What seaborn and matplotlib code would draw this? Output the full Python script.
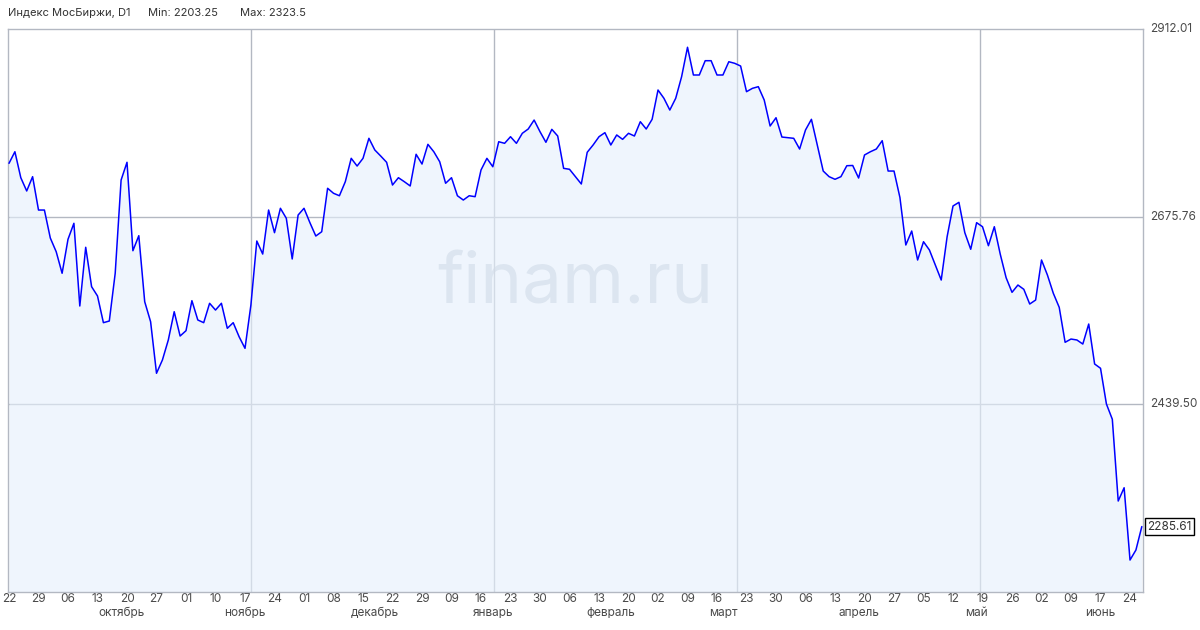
import numpy as np
import pandas as pd
import matplotlib
matplotlib.use('Agg')
import matplotlib.pyplot as plt
import seaborn as sns

# daily closes, one value per trading day
closes = [
    2742.9, 2757.5, 2724.8, 2708.1, 2726.1, 2684.1, 2684.1, 2648.9, 2631.6, 2604.5,
    2647.3, 2667.4, 2563.3, 2637.2, 2587.6, 2575.9, 2542.3, 2544.4, 2604.5, 2721.9,
    2744.2, 2632.9, 2651.8, 2568.7, 2543.5, 2478.6, 2495.3, 2520.5, 2556.1, 2525.5,
    2532.2, 2570.0, 2545.7, 2542.3, 2566.7, 2558.2, 2566.7, 2535.2, 2542.3, 2524.6,
    2510.0, 2564.5, 2645.1, 2628.7, 2684.1, 2655.6, 2686.3, 2673.7, 2622.5, 2677.8,
    2686.3, 2668.2, 2651.4, 2656.8, 2711.5, 2705.2, 2702.1, 2719.8, 2749.2, 2739.5,
    2749.2, 2774.4, 2759.7, 2752.1, 2744.2, 2715.6, 2724.8, 2719.8, 2714.4, 2754.3,
    2742.0, 2766.8, 2757.5, 2744.9, 2717.8, 2724.8, 2702.1, 2696.7, 2702.1, 2700.9,
    2734.5, 2749.2, 2738.6, 2770.1, 2768.1, 2776.4, 2768.1, 2780.7, 2786.1, 2797.4,
    2782.7, 2769.4, 2785.7, 2777.3, 2736.6, 2735.4, 2726.1, 2716.9, 2756.8, 2766.0,
    2776.4, 2781.5, 2766.0, 2778.6, 2773.1, 2780.7, 2777.3, 2795.3, 2786.1, 2798.3,
    2835.2, 2824.8, 2810.0, 2824.8, 2852.0, 2889.0, 2854.1, 2854.1, 2872.1, 2872.1,
    2854.1, 2854.1, 2870.8, 2868.8, 2865.4, 2833.1, 2837.3, 2839.4, 2822.6, 2789.9,
    2800.3, 2776.0, 2775.2, 2774.4, 2760.9, 2784.9, 2798.3, 2766.0, 2733.2, 2726.1,
    2722.8, 2726.1, 2739.9, 2740.2, 2724.4, 2753.4, 2757.5, 2760.9, 2771.4, 2733.2,
    2733.2, 2699.9, 2640.1, 2657.7, 2621.2, 2644.2, 2633.8, 2614.9, 2596.0, 2650.5,
    2689.2, 2693.8, 2655.6, 2634.7, 2668.2, 2663.1, 2639.2, 2663.1, 2628.7, 2598.9,
    2580.5, 2589.7, 2584.3, 2565.8, 2570.8, 2621.2, 2602.3, 2579.3, 2561.6, 2517.6,
    2521.7, 2520.5, 2515.4, 2540.6, 2490.3, 2484.9, 2439.9, 2420.7, 2317.8, 2334.5,
    2243.5, 2256.1, 2285.61,
]

# day-of-month labels, one every 5 trading days
day_labels = ['22', '29', '06', '13', '20', '27', '01', '10', '17', '24',
              '01', '08', '15', '22', '29', '09', '16', '23', '30', '06',
              '13', '20', '02', '09', '16', '23', '30', '06', '13', '20',
              '27', '05', '12', '19', '26', '02', '09', '17', '24']
months = ['октябрь', 'ноябрь', 'декабрь', 'январь', 'февраль', 'март', 'апрель', 'май', 'июнь']
month_bar = [19, 40, 62, 82, 102, 121, 144, 164, 185]

y_levels = [2439.50, 2675.76, 2912.01]
y_min, y_max = 2203.25, 2912.01
last_value = 2285.61

df = pd.DataFrame({'bar': np.arange(len(closes)), 'close': closes})

sns.set_theme(style='white')
plt.rcParams['font.family'] = ['Inter', 'DejaVu Sans']

fig = plt.figure(figsize=(12, 6.3), dpi=100)
ax = fig.add_axes([8 / 1200, 38 / 630, 1135 / 1200, 563 / 630])

x0, x1 = -0.17, 192.2
ax.set_xlim(x0, x1)
ax.set_ylim(y_min, y_max)

grid_col = '#b3b8c2'
txt_col = '#4a4a4a'
# watermark
ax.text(0.5, 0.545, 'finam.ru', transform=ax.transAxes, ha='center', va='center',
        fontsize=51, color='#cdd4de', zorder=0)

# grid: horizontal at labelled levels, vertical at fixed intervals
for lv in y_levels[:-1]:
    ax.axhline(lv, color=grid_col, lw=1, zorder=1)
for k in range(1, 5):
    ax.axvline(x0 + k * 243 / 1135 * (x1 - x0), color=grid_col, lw=1, zorder=1)

ax.fill_between(df['bar'], df['close'], y_min, color='#e6f0fc', alpha=0.62, lw=0, zorder=2)
sns.lineplot(data=df, x='bar', y='close', ax=ax, color='#0000ff', lw=1.1, zorder=3)

for sp in ax.spines.values():
    sp.set_color(grid_col)
    sp.set_linewidth(1)

ax.set_xlabel('')
ax.set_ylabel('')
ax.set_yticks([])
ax.set_xticks(np.arange(0, 5 * len(day_labels), 5))
ax.set_xticklabels(day_labels, fontsize=8.5, color=txt_col)
ax.tick_params(axis='x', length=0, pad=1)

# month names under the day labels
for name, b in zip(months, month_bar):
    ax.text(b, -0.037, name, transform=ax.get_xaxis_transform(), ha='center', va='center',
            fontsize=8.5, color=txt_col)

# right-hand price labels
for lv in y_levels:
    ax.text(1.006, lv, f'{lv:.2f}', transform=ax.get_yaxis_transform(), ha='left', va='center',
            fontsize=8.5, color=txt_col)
ax.text(1.004, last_value, f'{last_value:.2f}', transform=ax.get_yaxis_transform(),
        ha='left', va='center', fontsize=8.5, color='#333333',
        bbox=dict(boxstyle='square,pad=0.2', fc='white', ec='black', lw=1))

# header
hy = 1 - 13 / 630
fig.text(8 / 1200, hy, 'Индекс МосБиржи, D1', ha='left', va='center', fontsize=8, color='#333333')
fig.text(148 / 1200, hy, 'Min: 2203.25', ha='left', va='center', fontsize=8, color='#333333')
fig.text(240 / 1200, hy, 'Max: 2323.5', ha='left', va='center', fontsize=8, color='#333333')

fig.savefig('out.png', dpi=100, facecolor='white')
